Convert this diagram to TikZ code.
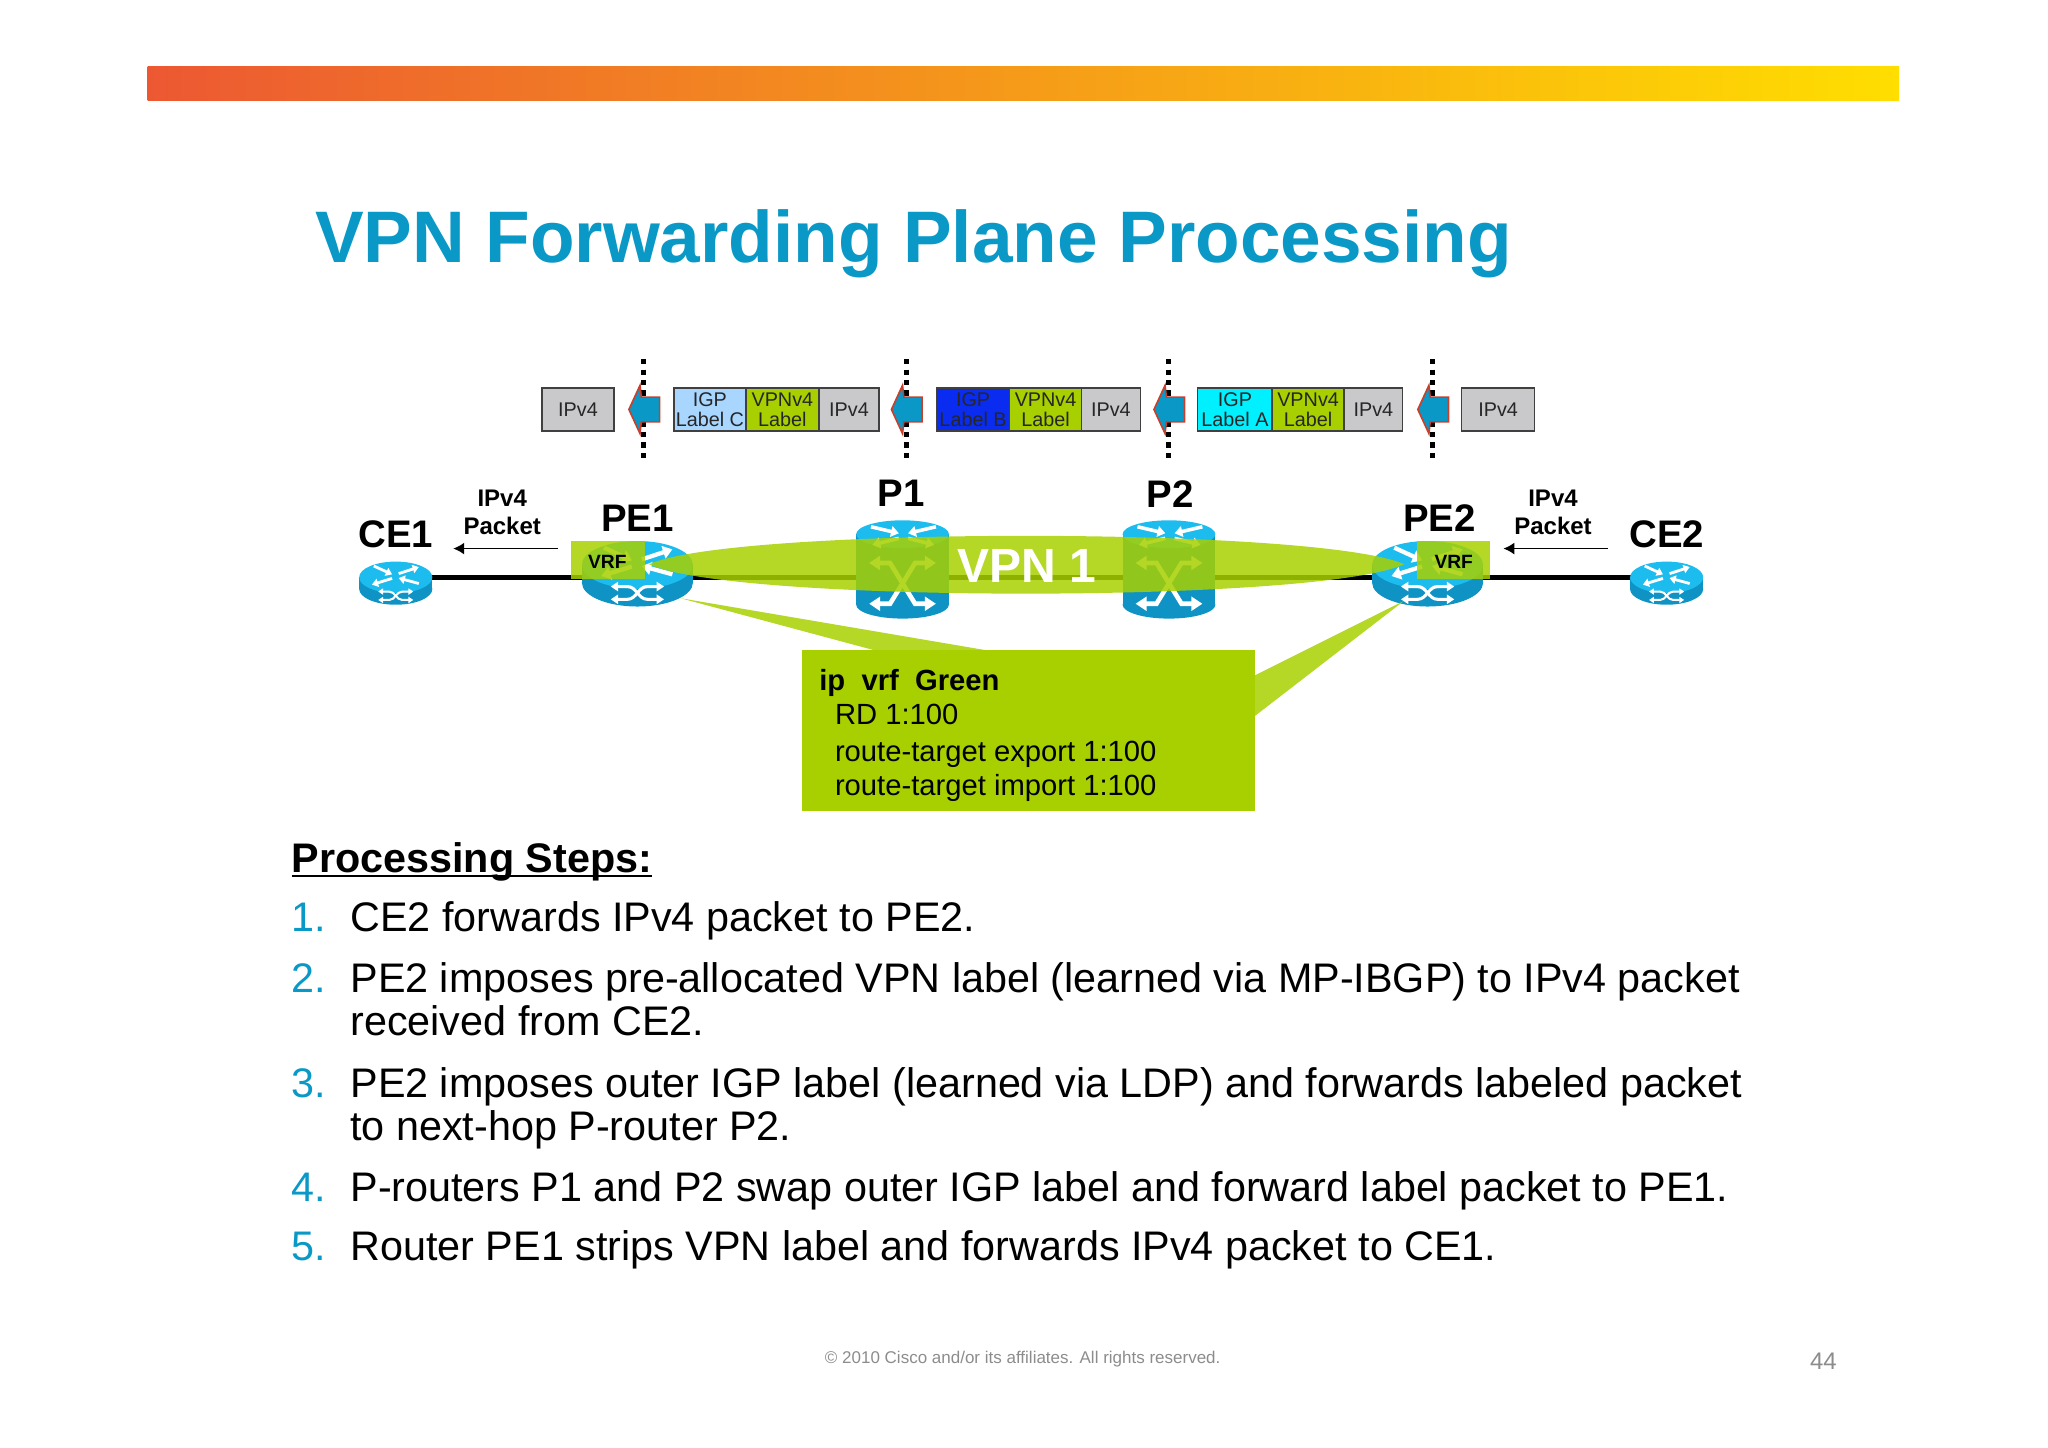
\documentclass[tikz,border=0pt]{standalone}
\usepackage{fontspec}
\setmainfont{Liberation Sans}
\usetikzlibrary{arrows.meta}
\definecolor{ciscoblue}{HTML}{0A98C6}
\definecolor{routertop}{HTML}{1CBCEE}
\definecolor{routerbody}{HTML}{0E93C4}
\definecolor{vrfgreen}{HTML}{A8D000}
\definecolor{ipgray}{HTML}{C9C9CC}
\definecolor{labelc}{HTML}{A8D6FF}
\definecolor{labelb}{HTML}{0A2CF0}
\definecolor{labela}{HTML}{00F0FF}
\definecolor{hopred}{HTML}{C8402C}
\def\pu{0.65306pt}
\newcommand{\headline}[1]{\setbox0\hbox{#1}\rlap{\rule[-2.4pt]{\wd0}{1pt}}\box0}
\tikzset{
  surface arrow/.style={white, line width=#1*0.05pt, -{Triangle[length=0pt 2.2 0, width=0pt 3 0]}},
  side arrow/.style={white, line width=#1, {Triangle[length=0pt 2.4 0, width=0pt 3 0]}-{Triangle[length=0pt 2.4 0, width=0pt 3 0]}},
  pics/edge router/.style={code={
    \begin{scope}[scale=#1]
    \fill[routerbody] (-1, 0) rectangle (1, 0.32);
    \fill[routerbody] (0, 0.32) ellipse [x radius = 1, y radius = 0.43];
    \fill[routertop] (0, 0) ellipse [x radius = 1, y radius = 0.43];
    % Top of the router
    \draw[surface arrow=#1] (-0.6, -0.31) -- (-0.1, -0.08);
    \draw[surface arrow=#1] (0.08, -0.1) -- (0.63, -0.28);
    \draw[surface arrow=#1] (-0.1, 0.03) -- (-0.65, 0.2);
    \draw[surface arrow=#1] (0.63, 0.17) -- (0.08, 0.02);
    % Side of the router
    \draw[side arrow=#1*0.036pt] (-0.48, 0.39) -- (-0.18, 0.39) to[out=0, in=180] (0.18, 0.62) -- (0.48, 0.62);
    \draw[side arrow=#1*0.036pt] (-0.48, 0.62) -- (-0.18, 0.62) to[out=0, in=180] (0.18, 0.39) -- (0.48, 0.39);
    \end{scope}
  }},
  pics/core router/.style={code={
    \begin{scope}[scale=#1]
    \fill[routerbody] (-1, 0) rectangle (1, 1.52);
    \fill[routerbody] (0, 1.52) ellipse [x radius = 1, y radius = 0.3];
    \fill[routertop] (0, 0) ellipse [x radius = 1, y radius = 0.3];
    % Top of the router
    \draw[surface arrow=#1] (-0.68, -0.16) -- (-0.08, -0.02);
    \draw[surface arrow=#1] (0.72, -0.16) -- (0.12, -0.02);
    \draw[surface arrow=#1] (-0.08, 0.09) -- (-0.65, 0.23);
    \draw[surface arrow=#1] (0.12, 0.09) -- (0.68, 0.23);
    % Side of the router
    \draw[side arrow=#1*0.065pt] (-0.72, 0.62) -- (-0.27, 0.62) -- (0.27, 1.5) -- (0.72, 1.5);
    \draw[side arrow=#1*0.065pt] (0.72, 0.62) -- (0.27, 0.62) -- (-0.27, 1.5) -- (-0.72, 1.5);
    \end{scope}
  }}
}
\begin{document}
\begin{tikzpicture}[x = 0.65306pt, y = -0.65306pt,
  packet box/.style = {draw = black!75, line width = 0.7pt, inner sep = 0pt, minimum height = 33*\pu, align = center, text = black!85,
    font = \fontsize{9.9}{9.9}\selectfont},
  hop line/.style = {line width = 2.5pt, dash pattern = on 2.6pt off 2.6pt},
  hop arrow/.style = {fill = ciscoblue, draw = hopred, line width = 0.8pt},
  link/.style = {line width = 2.6pt},
  router name/.style = {font = \fontsize{19.2}{19.2}\selectfont\bfseries},
  flow name/.style = {font = \fontsize{12}{14}\selectfont\bfseries, align = center},
  flow/.style = {line width = 0.8pt, -{Latex[length = 5.5pt, width = 6pt]}},
  veil/.style = {fill = vrfgreen, fill opacity = 0.85},
  vrf name/.style = {font = \fontsize{9.6}{10}\selectfont\bfseries},
  step text/.style = {anchor = base west, inner sep = 0pt, font = \fontsize{20.66}{21.6}\selectfont, align = left}]
\useasboundingbox (0, 0) rectangle (1568, 1107.9);
% Top bar and title
\shade[left color = {rgb,255:red,236;green,88;blue,50}, right color = {rgb,255:red,255;green,222;blue,0}] (113, 51) rectangle (1454, 77);
\node[anchor = base west, inner sep = 0pt, text = ciscoblue, font = \fontsize{36.5}{36.5}\selectfont\bfseries] (title) at (241, 201) {VPN Forwarding Plane Processing};
% Packets
\foreach \name/\xa/\xb/\col/\txt in {
  ipa/415/470/ipgray/IPv4,
  igpc/516/571/labelc/{IGP\\Label C}, vpnc/571/627/vrfgreen/{VPNv4\\Label}, ipc/627/673/ipgray/IPv4,
  igpb/717/773/labelb/{IGP\\Label B}, vpnb/773/828/vrfgreen/{VPNv4\\Label}, ipb/828/873/ipgray/IPv4,
  igpk/917/974/labela/{IGP\\Label A}, vpnk/974/1029/vrfgreen/{VPNv4\\Label}, ipk/1029/1074/ipgray/IPv4,
  ipz/1119/1175/ipgray/IPv4}
  \node[packet box, fill = \col, minimum width = (\xb-\xa)*\pu] (\name) at ({(\xa+\xb)/2}, 313.5) {\txt};
% Hops
\foreach \x [count = \i] in {493, 694, 895, 1097} {
  \coordinate (top\i) at (\x, 275);
  \coordinate (bot\i) at (\x, 353);
  \draw[hop line] (top\i) -- (bot\i);
  \draw[hop arrow] ({\x-11.5}, 313.5) -- ({\x-3}, 295) -- ({\x-2}, 304) -- ({\x+12}, 304) -- ({\x+12}, 323) -- ({\x-2}, 323) -- ({\x-3}, 332) -- cycle;
}
% Links
\coordinate (CE1) at (303, 442);
\coordinate (PE1) at (488, 442);
\coordinate (P1) at (691, 442);
\coordinate (P2) at (895, 442);
\coordinate (PE2) at (1093, 442);
\coordinate (CE2) at (1276, 442);
\draw[link] (CE1) -- (PE1) -- (P1) -- (P2) -- (PE2) -- (CE2);
% Routers
\pic at (303, 442) {edge router = 28};
\pic at (488, 432.5) {edge router = 42.5};
\pic at (691, 409) {core router = 35.5};
\pic at (895, 409) {core router = 35.5};
\pic at (1093, 432.5) {edge router = 42.5};
\pic at (1276, 442) {edge router = 28};
% Router names
\node[router name] (ce1 name) at (303, 409) {CE1};
\node[router name] (pe1 name) at (488, 397) {PE1};
\node[router name] (p1 name) at (690, 378) {P1};
\node[router name] (p2 name) at (896, 378) {P2};
\node[router name] (pe2 name) at (1102, 397) {PE2};
\node[router name] (ce2 name) at (1276, 409) {CE2};
% Packet flows
\node[flow name] (flow left) at (384.5, 392) {IPv4\\Packet};
\node[flow name] (flow right) at (1189, 392) {IPv4\\Packet};
\coordinate (left from) at (427, 420);
\coordinate (left to) at (347, 420);
\coordinate (right from) at (1231, 420);
\coordinate (right to) at (1151, 420);
\draw[flow] (left from) -- (left to);
\draw[flow] (right from) -- (right to);
% Configuration and what leads to it
\fill[veil] (521, 458) -- (670, 498) -- (756, 498) -- cycle;
\fill[veil] (1075, 460) -- (961, 517) -- (961, 548) -- cycle;
\fill[vrfgreen] (614, 498) rectangle (961, 621);
\node[anchor = base west, inner sep = 0pt, font = \fontsize{14.6}{14.6}\selectfont\bfseries] (vrf head) at (627, 529) {ip\ \ vrf\ \ Green};
\node[anchor = base west, inner sep = 0pt, font = \fontsize{14.6}{14.6}\selectfont] (vrf rd) at (639, 555) {RD 1:100};
\node[anchor = base west, inner sep = 0pt, font = \fontsize{14.6}{14.6}\selectfont] (vrf export) at (639, 583) {route-target export 1:100};
\node[anchor = base west, inner sep = 0pt, font = \fontsize{14.6}{14.6}\selectfont] (vrf import) at (639, 609) {route-target import 1:100};
% VPN
\fill[veil] (497, 432) .. controls (560, 403) and (1010, 403) .. (1075, 432)
  .. controls (1010, 462) and (560, 462) .. (497, 432) -- cycle;
\fill[veil] (437, 414) rectangle (494, 443);
\fill[veil] (1085, 414) rectangle (1141, 443);
\node[vrf name] (vrf left) at (465, 430) {VRF};
\node[vrf name] (vrf right) at (1113, 430) {VRF};
\node[text = white, font = \fontsize{24}{24}\selectfont\bfseries] (vpn name) at (786, 433) {VPN 1};
% Processing steps
\node[step text, font = \fontsize{20.66}{21.6}\selectfont\bfseries] (steps) at (223, 668) {\headline{Processing Steps:}};
\foreach \num/\ypos/\ylast/\txt in {
  1/713/713/{CE2 forwards IPv4 packet to PE2.},
  2/760/793/{PE2 imposes pre-allocated VPN label (learned via MP-IBGP) to IPv4 packet\\received from CE2.},
  3/840/873/{PE2 imposes outer IGP label (learned via LDP) and forwards labeled packet\\to next-hop P-router P2.},
  4/920/920/{P-routers P1 and P2 swap outer IGP label and forward label packet to PE1.},
  5/965/965/{Router PE1 strips VPN label and forwards IPv4 packet to CE1.}} {
  \node[step text, text = ciscoblue] (num\num) at (223, \ypos) {\num.};
  \node[step text] (txt\num) at (268, \ylast) {\txt};
}
% Footer
\node[text = black!45, font = \fontsize{8.5}{9}\selectfont] (rights) at (783, 1040.5) {© 2010 Cisco and/or its affiliates. All rights reserved.};
\node[text = black!45, font = \fontsize{12}{12}\selectfont] (page) at (1396, 1042) {44};
\end{tikzpicture}
\end{document}
